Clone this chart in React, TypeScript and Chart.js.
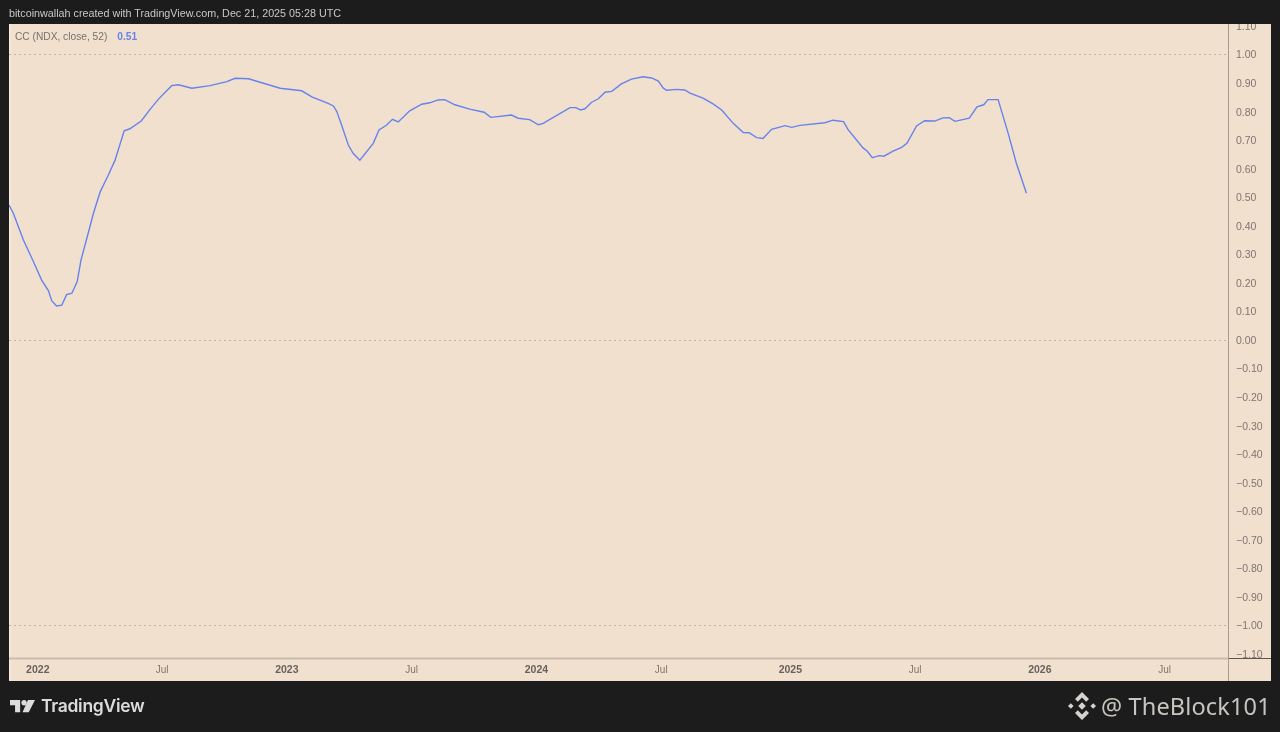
import { useEffect, useRef } from 'react';
import Chart from 'chart.js/auto';

// weeks counted from the left edge of the chart
const weeks = [
  0, 0.9, 3, 5.1, 6.8, 8.2, 8.9, 9.9, 11, 12, 13.1, 14.2, 15, 16.5, 17.6, 19, 20.7, 22.1, 24, 25.2,
  27.6, 29.4, 31.1, 33.9, 35.3, 38.1, 41.9, 45.4, 47.1, 49.9, 56.5, 61, 63.1, 66.5, 67.6, 68.3, 69.3, 70.7, 71.7, 73.1,
  75.9, 77.1, 78.7, 79.9, 81.1, 83.5, 86, 87.7, 89.4, 90.8, 92.9, 96, 99, 100.4, 104.7, 106.1, 108.5, 110.3, 111.3, 116.9,
  118.1, 119.1, 120, 121.4, 122.8, 124.2, 125.6, 127.6, 129.7, 132.1, 133.9, 135.3, 136.3, 137, 139.1, 140.8, 141.9, 144.6, 146.7, 148.5,
  150.9, 153, 154.2, 155.8, 157.1, 158.9, 161.7, 163.1, 164.8, 170, 171.7, 173.9, 174.8, 178, 178.8, 179.9, 181.3, 182.3, 184.2, 186,
  187.1, 189.1, 190.8, 192.9, 194.6, 195.9, 197.1, 200.1, 201.7, 203.1, 204, 206.1, 208.2, 209.9, 212,
];

const ccValues = [
  0.473, 0.444, 0.35, 0.274, 0.21, 0.173, 0.138, 0.119, 0.122, 0.159, 0.164, 0.204, 0.28, 0.374, 0.444, 0.519, 0.578, 0.63, 0.733, 0.74,
  0.768, 0.808, 0.843, 0.891, 0.894, 0.882, 0.891, 0.905, 0.917, 0.915, 0.882, 0.873, 0.852, 0.829, 0.82, 0.8, 0.753, 0.683, 0.654, 0.63,
  0.689, 0.736, 0.753, 0.773, 0.764, 0.803, 0.826, 0.831, 0.841, 0.842, 0.824, 0.809, 0.798, 0.78, 0.788, 0.777, 0.772, 0.754, 0.759, 0.814,
  0.814, 0.806, 0.81, 0.833, 0.845, 0.868, 0.871, 0.897, 0.914, 0.922, 0.918, 0.907, 0.883, 0.875, 0.878, 0.876, 0.865, 0.847, 0.827, 0.806,
  0.759, 0.727, 0.726, 0.709, 0.706, 0.738, 0.751, 0.745, 0.752, 0.761, 0.77, 0.765, 0.738, 0.672, 0.662, 0.639, 0.646, 0.644, 0.662, 0.675,
  0.689, 0.75, 0.768, 0.767, 0.778, 0.779, 0.766, 0.777, 0.817, 0.824, 0.842, 0.842, 0.724, 0.619, 0.514,
];

const xTickWeeks = [6, 31.9, 57.9, 83.9, 109.9, 135.9, 162.8, 188.8, 214.8, 240.8];
const xTickLabels = ['2022', 'Jul', '2023', 'Jul', '2024', 'Jul', '2025', 'Jul', '2026', 'Jul'];
const yTicks = [
  1.1, 1, 0.9, 0.8, 0.7, 0.6, 0.5, 0.4, 0.3, 0.2, 0.1, 0, -0.1, -0.2, -0.3, -0.4, -0.5, -0.6, -0.7, -0.8, -0.9, -1, -1.1,
];
const dottedLevels = [1, 0, -1];

const PANEL = '#f2e0cf';
const DARK = '#1c1c1c';
const LINE = '#6682ec';
const FONT = '"Liberation Sans", Arial, sans-serif';

const panelPlugin = {
  id: 'panel',
  beforeDraw(chart: Chart) {
    const { ctx, chartArea } = chart;
    const h = chart.height - chartArea.top - 51;
    ctx.save();
    ctx.fillStyle = PANEL;
    ctx.fillRect(chartArea.left, chartArea.top, chart.width - chartArea.left - 9, h);
    ctx.fillStyle = 'rgba(255,255,255,0.25)';
    ctx.fillRect(chartArea.left, chartArea.top, 2, h);
    ctx.restore();
  },
  afterDraw(chart: Chart) {
    const { ctx, chartArea } = chart;
    ctx.save();
    ctx.fillStyle = '#c9bcae';
    ctx.fillRect(chartArea.left, chartArea.bottom - 0.5, chartArea.right - chartArea.left, 2);
    ctx.fillStyle = '#a59c92';
    ctx.fillRect(chartArea.right, chartArea.top, 1, chart.height - chartArea.top - 51);
    ctx.fillStyle = '#5c5650';
    ctx.fillRect(chartArea.right + 1, chartArea.bottom, chart.width - chartArea.right - 10, 1);
    ctx.restore();
  },
};

const App = () => {
  const canvasRef = useRef<HTMLCanvasElement>(null);

  useEffect(() => {
    if (!canvasRef.current) return;
    const chart = new Chart(canvasRef.current, {
      type: 'line',
      data: {
        datasets: [
          {
            label: 'CC (NDX, close, 52)',
            data: weeks.map((w, i) => ({ x: w, y: ccValues[i] })),
            borderColor: LINE,
            borderWidth: 1.4,
            pointRadius: 0,
            tension: 0,
          },
        ],
      },
      options: {
        animation: false,
        responsive: false,
        layout: { padding: { left: 9, top: 24, right: 9, bottom: 51 } },
        plugins: { legend: { display: false }, tooltip: { enabled: false } },
        scales: {
          x: {
            type: 'linear',
            min: 0,
            max: 254,
            afterBuildTicks: (axis: any) => {
              axis.ticks = xTickWeeks.map((value) => ({ value }));
            },
            afterFit: (axis: any) => {
              axis.height = 23;
            },
            grid: { display: false },
            border: { display: false },
            ticks: {
              autoSkip: false,
              maxRotation: 0,
              padding: -2,
              callback: (_value: any, index: number) => xTickLabels[index],
              color: (c: any) => (c.index % 2 === 0 ? '#68625d' : '#7d7670'),
              font: (c: any) => ({
                family: FONT,
                size: c.index % 2 === 0 ? 10.5 : 10,
                weight: c.index % 2 === 0 ? 'bold' : 'normal',
              }),
            },
          },
          y: {
            position: 'right',
            min: -1.114,
            max: 1.107,
            afterBuildTicks: (axis: any) => {
              axis.ticks = yTicks.map((value) => ({ value }));
            },
            afterFit: (axis: any) => {
              axis.width = 43;
            },
            grid: {
              drawTicks: false,
              color: (c: any) =>
                dottedLevels.includes(c.tick?.value) ? '#c2b5a6' : 'rgba(0,0,0,0)',
            },
            border: { display: false, dash: [2, 3] },
            ticks: {
              autoSkip: false,
              padding: 8,
              labelOffset: 1,
              color: '#7d7670',
              font: { family: FONT, size: 10.5 },
              callback: (value: any) =>
                (Number(value) < 0 ? '\u2212' : '') + Math.abs(Number(value)).toFixed(2),
            },
          },
        },
      },
      plugins: [panelPlugin],
    } as any);
    return () => {
      chart.destroy();
    };
  }, []);

  return (
    <div style={{ position: 'fixed', inset: 0, width: 1280, height: 732, background: DARK, overflow: 'hidden', fontFamily: FONT }}>
      <canvas ref={canvasRef} width={1280} height={732} style={{ position: 'absolute', left: 0, top: 0, display: 'block' }} />
      <div style={{ position: 'absolute', left: 0, top: 0, width: 1280, height: 23.5, background: DARK }} />
      <div style={{ position: 'absolute', left: 9, top: 6, fontSize: 10.75, lineHeight: '14px', color: '#c8c8c8', whiteSpace: 'nowrap' }}>
        bitcoinwallah created with TradingView.com, Dec 21, 2025 05:28 UTC
      </div>
      <div style={{ position: 'absolute', left: 15, top: 30, fontSize: 10.2, lineHeight: '14px', color: '#77716b', whiteSpace: 'nowrap' }}>
        CC (NDX, close, 52)
        <span style={{ color: LINE, fontWeight: 'bold', marginLeft: 10 }}>0.51</span>
      </div>
      <svg width="25" height="13" viewBox="0 0 32 16" preserveAspectRatio="none" style={{ position: 'absolute', left: 10, top: 700 }}>
        <path d="M0 0H13V15H6.5V6.5H0Z M23 0H32L24 15H16Z" fill="#dcdcdc" />
        <circle cx="18" cy="3.4" r="3.4" fill="#dcdcdc" />
      </svg>
      <div style={{ position: 'absolute', left: 41, top: 694, fontFamily: 'Inter, sans-serif', fontSize: 17.5, fontWeight: 600, lineHeight: '24px', letterSpacing: -0.3, color: '#dcdcdc', whiteSpace: 'nowrap' }}>
        TradingView
      </div>
      <svg width="28" height="28" viewBox="0 0 28 28" style={{ position: 'absolute', left: 1068, top: 692 }}>
        <path
          d="M14 0L21 7L18.2 9.8L14 5.6L9.8 9.8L7 7Z M14 28L21 21L18.2 18.2L14 22.4L9.8 18.2L7 21Z M0 14L2.8 11.2L5.6 14L2.8 16.8Z M28 14L25.2 11.2L22.4 14L25.2 16.8Z M14 10.2L17.8 14L14 17.8L10.2 14Z"
          fill="#d6d3cf"
        />
      </svg>
      <div style={{ position: 'absolute', left: 1101, top: 691, fontFamily: '"Noto Sans", sans-serif', fontSize: 23.5, lineHeight: '30px', letterSpacing: 0.15, color: '#c8c4bf', whiteSpace: 'nowrap' }}>
        @ TheBlock101
      </div>
    </div>
  );
};

export default App;
